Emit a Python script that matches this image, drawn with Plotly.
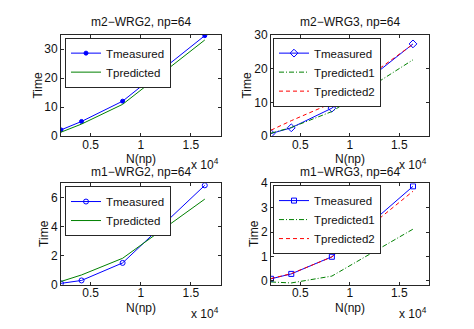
import plotly.graph_objects as go

# ---- data ----
N = [2048, 4096, 8192, 16384]
tl_meas = [2.2, 5.1, 12.1, 34.7]
tl_pred = [1.4, 4.2, 11.0, 33.2]
tr_meas = [0.8, 2.5, 8.3, 27.3]
tr_pred1 = [0.9, 2.6, 7.3, 22.6]
tr_pred2 = [1.8, 4.6, 9.8, 27.2]
bl_meas = [0.09, 0.29, 1.5, 6.85]
bl_pred = [0.22, 0.67, 1.82, 5.9]
br_meas = [0.09, 0.29, 0.99, 3.87]
br_pred1 = [-0.04, -0.08, 0.2, 2.12]
br_pred2 = [0.1, 0.3, 0.98, 3.67]

titles = ["m2−WRG2, np=64", "m2−WRG3, np=64", "m1−WRG2, np=64", "m1−WRG3, np=64"]
x_title = "N(np)"
y_title = "Time"
x_tickvals = [5000, 10000, 15000]
x_ticktext = ["0.5", "1", "1.5"]
y_ticks = [[0, 10, 20, 30], [0, 10, 20, 30], [0, 2, 4, 6], [0, 1, 2, 3, 4]]
y_ranges = [[0, 35], [0, 30], [0, 7], [-0.15, 4]]

BLUE = "#0000ff"
GREEN = "#008000"
RED = "#ff0000"
FONT = "Liberation Sans, Arial, Helvetica, sans-serif"
AX = "#262626"
TXT = "#111111"

W, H = 474, 329
# axis boxes in pixels (left, right, top, bottom)
boxes = [(61, 221, 29, 135), (271, 429, 29, 135), (61, 221, 184, 290), (271, 429, 184, 290)]
legend_pos = [(65, 32), (273, 32), (65, 187), (273, 186)]
title_shift = [4, 4, 2, 2]
xtitle_shift = [-23, -23, -23, -23]
ytitle_shift = [-23, -24, -17, -17]

fig = go.Figure()

def add(idx, y, name, color, dash, symbol=None, msize=5):
    ax = "" if idx == 0 else str(idx + 1)
    mode = "lines+markers" if symbol else "lines"
    fig.add_trace(go.Scatter(
        x=N, y=y, name=name, mode=mode,
        line=dict(color=color, width=1, dash=dash),
        marker=dict(symbol=symbol or "circle", size=msize, color=color,
                    line=dict(color=color, width=1)),
        xaxis="x" + ax, yaxis="y" + ax,
        legend="legend" + ax,
    ))

DASH = "4px,3px"
DASHDOT = "5px,2px,1px,2px"
add(0, tl_meas, "Tmeasured", BLUE, "solid", "circle", 4)
add(0, tl_pred, "Tpredicted", GREEN, "solid")
add(1, tr_meas, "Tmeasured", BLUE, "solid", "diamond-open", 6)
add(1, tr_pred1, "Tpredicted1", GREEN, DASHDOT)
add(1, tr_pred2, "Tpredicted2", RED, DASH)
add(2, bl_meas, "Tmeasured", BLUE, "solid", "circle-open", 5)
add(2, bl_pred, "Tpredicted", GREEN, "solid")
add(3, br_meas, "Tmeasured", BLUE, "solid", "square-open", 5)
add(3, br_pred1, "Tpredicted1", GREEN, DASHDOT)
add(3, br_pred2, "Tpredicted2", RED, DASH)

layout = dict(
    width=W, height=H, margin=dict(l=0, r=0, t=0, b=0),
    paper_bgcolor="white", plot_bgcolor="white",
    font=dict(family=FONT, size=12, color=TXT),
    showlegend=True,
)
annotations = []
for i, (l, r, t, b) in enumerate(boxes):
    ax = "" if i == 0 else str(i + 1)
    common = dict(showline=True, linecolor=AX, linewidth=1, mirror="ticks",
                  ticks="inside", ticklen=3, tickcolor=AX, showgrid=False,
                  zeroline=False, tickfont=dict(size=12, color=TXT))
    layout["xaxis" + ax] = dict(
        domain=[l / W, r / W], anchor="y" + ax, range=[2048, 18000],
        tickvals=x_tickvals, ticktext=x_ticktext, ticklabelstandoff=-3, **common)
    layout["yaxis" + ax] = dict(
        domain=[1 - b / H, 1 - t / H], anchor="x" + ax, range=y_ranges[i],
        tickvals=y_ticks[i], ticktext=[str(v) for v in y_ticks[i]], **common)
    lx, ly = legend_pos[i]
    layout["legend" + ax] = dict(
        x=lx / W, y=1 - ly / H, xanchor="left", yanchor="top",
        bgcolor="white", bordercolor=AX, borderwidth=1,
        font=dict(size=11.5, color=TXT), itemwidth=30, tracegroupgap=0,
    )
    xd, yd = "x" + ax + " domain", "y" + ax + " domain"
    annotations.append(dict(
        text=titles[i], xref=xd, yref=yd,
        x=0.5, y=1, xanchor="center", yanchor="bottom", yshift=title_shift[i],
        showarrow=False, font=dict(size=12, color=TXT)))
    annotations.append(dict(
        text=x_title, xref=xd, yref=yd,
        x=0.5, y=0, xanchor="center", yanchor="middle", yshift=xtitle_shift[i],
        showarrow=False, font=dict(size=12, color=TXT)))
    annotations.append(dict(
        text=y_title, xref=xd, yref=yd, textangle=-90,
        x=0, y=0.5, xanchor="center", yanchor="middle", xshift=ytitle_shift[i],
        showarrow=False, font=dict(size=12, color=TXT)))
    annotations.append(dict(
        text="x 10<sup>4</sup>", xref=xd, yref=yd,
        x=1, y=0, xanchor="right", yanchor="top", yshift=-18,
        showarrow=False, font=dict(size=12, color=TXT)))

layout["annotations"] = annotations
fig.update_layout(**layout)
fig.write_html("out.html")
